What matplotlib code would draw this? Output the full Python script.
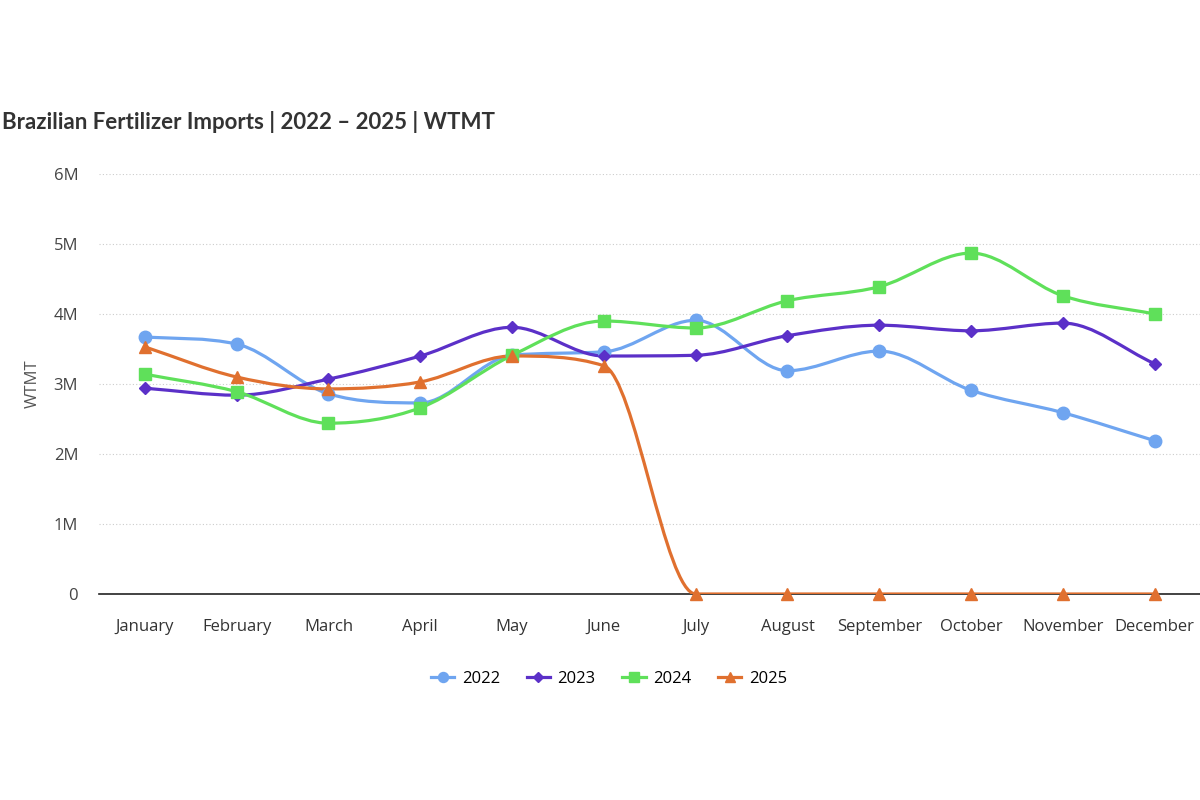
import numpy as np
import matplotlib
matplotlib.use("Agg")
import matplotlib.pyplot as plt
from matplotlib.path import Path
from matplotlib.patches import PathPatch
from matplotlib.ticker import FuncFormatter

plt.rcParams['font.family'] = ['Open Sans', 'DejaVu Sans']

months = ["January", "February", "March", "April", "May", "June", "July",
          "August", "September", "October", "November", "December"]
years = ["2022", "2023", "2024", "2025"]

# values in million WTMT
imports_2022 = [3.67, 3.57, 2.86, 2.73, 3.41, 3.46, 3.91, 3.19, 3.47, 2.91, 2.59, 2.19]
imports_2023 = [2.94, 2.84, 3.07, 3.40, 3.81, 3.40, 3.41, 3.69, 3.84, 3.76, 3.87, 3.29]
imports_2024 = [3.14, 2.89, 2.44, 2.66, 3.41, 3.90, 3.80, 4.19, 4.39, 4.87, 4.26, 4.00]
imports_2025 = [3.53, 3.10, 2.93, 3.03, 3.40, 3.26, 0, 0, 0, 0, 0, 0]

colors = ["#6fa5f0", "#5b30c8", "#5fe05a", "#e0702f"]
markers = ["o", "D", "s", "^"]
msizes = [9, 6.5, 8.5, 9]


def monotone_path(xs, ys):
    # monotone cubic (Fritsch-Carlson) as bezier segments
    xs = np.asarray(xs, float)
    ys = np.asarray(ys, float)
    n = len(xs)
    delta = np.diff(ys) / np.diff(xs)
    m = np.zeros(n)
    m[0] = delta[0]
    m[-1] = delta[-1]
    for i in range(1, n - 1):
        if delta[i - 1] == 0 or delta[i] == 0 or np.sign(delta[i - 1]) != np.sign(delta[i]):
            m[i] = 0
        else:
            m[i] = (delta[i - 1] + delta[i]) / 2
    for i in range(n - 1):
        if abs(delta[i]) < 1e-9:
            m[i] = m[i + 1] = 0
            continue
        a = m[i] / delta[i]
        b = m[i + 1] / delta[i]
        sq = a * a + b * b
        if sq > 9:
            tau = 3 / np.sqrt(sq)
            m[i] = a * tau * delta[i]
            m[i + 1] = b * tau * delta[i]
    verts = [(xs[0], ys[0])]
    codes = [Path.MOVETO]
    for i in range(n - 1):
        dx = (xs[i + 1] - xs[i]) / 3
        verts += [(xs[i] + dx, ys[i] + m[i] * dx),
                  (xs[i + 1] - dx, ys[i + 1] - m[i + 1] * dx),
                  (xs[i + 1], ys[i + 1])]
        codes += [Path.CURVE4] * 3
    return Path(verts, codes)


fig = plt.figure(figsize=(12, 8), dpi=100)
ax = fig.add_axes([0.0825, 0.2575, 0.918, 0.525])
x = np.arange(len(months))
ax.set_xlim(-0.5, len(months) - 0.5)
ax.set_ylim(0, 6e6)

series = [imports_2022, imports_2023, imports_2024, imports_2025]
for yr, vals, c, m, ms in zip(years, series, colors, markers, msizes):
    y = np.array(vals) * 1e6
    ax.add_patch(PathPatch(monotone_path(x, y), facecolor="none", edgecolor=c, lw=2.3, zorder=3))
    ax.plot(x, y, linestyle="none", marker=m, markersize=ms, color=c, zorder=4, clip_on=False)
    ax.plot([], [], color=c, lw=2.3, marker=m, markersize=ms * 0.8, label=yr)

ax.set_xticks(x)
ax.set_xticklabels(months, fontsize=12, color="#333333")
ax.set_yticks(np.arange(0, 7e6, 1e6))
ax.yaxis.set_major_formatter(FuncFormatter(lambda v, p: "0" if v == 0 else f"{int(v / 1e6)}M"))
ax.tick_params(axis="y", labelsize=12, labelcolor="#444444", length=0, pad=15)
ax.tick_params(axis="x", length=0, pad=18)
ax.grid(axis="y", linestyle=(0, (1, 2)), color="#cccccc", lw=0.8)
ax.set_axisbelow(True)
for s in ["top", "right", "left"]:
    ax.spines[s].set_visible(False)
ax.spines["bottom"].set_color("#222222")
ax.spines["bottom"].set_linewidth(1.2)
ax.spines["bottom"].set_zorder(2)

ax.set_ylabel("WTMT", fontsize=12, color="#555555", labelpad=9)

fig.text(0.002, 0.848, "Brazilian Fertilizer Imports | 2022 \u2013 2025 | WTMT",
         fontsize=16, fontweight="bold", color="#333333", va="center", ha="left",
         family=["Lato", "DejaVu Sans"])

fig.legend(loc="center", bbox_to_anchor=(0.5075, 0.151), ncol=4, frameon=False,
           fontsize=12, handlelength=1.4, columnspacing=1.6, handletextpad=0.45)

fig.savefig("out.png", dpi=100)
